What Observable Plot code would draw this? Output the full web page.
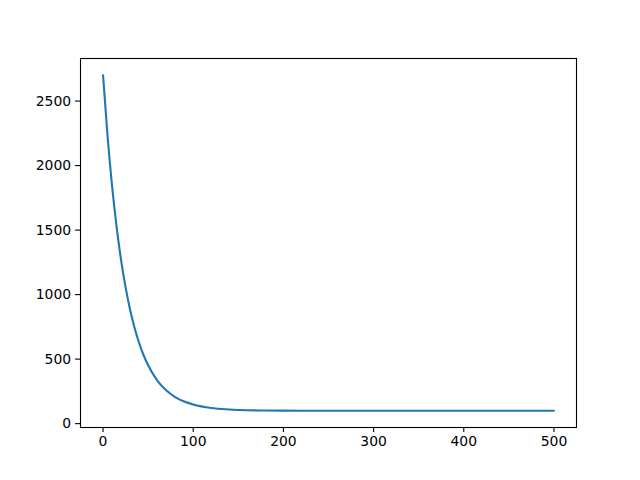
<!DOCTYPE html>
<html>
<head>
<meta charset="utf-8">
<script src="https://cdn.jsdelivr.net/npm/d3@7"></script>
<script src="https://cdn.jsdelivr.net/npm/@observablehq/plot@0.6"></script>
<style>
  html, body { margin: 0; padding: 0; background: #fff; }
</style>
</head>
<body>
<div id="chart"></div>
<script>
// Values
const xs = [0, 5, 10, 15, 20, 25, 30, 35, 40, 45, 50, 60, 70, 80, 90, 100, 120, 140, 160, 180, 200, 250, 300, 350, 400, 450, 500];
const ys = [2700, 2229, 1843, 1527, 1268, 1056, 883, 741, 625, 530, 452, 336, 258, 206, 171, 148, 121, 110, 104, 102, 101, 100, 100, 100, 100, 100, 100];
const xTicks = [0, 100, 200, 300, 400, 500];
const yTicks = [0, 500, 1000, 1500, 2000, 2500];

const data = xs.map((x, i) => ({x, y: ys[i]}));

const chart = Plot.plot({
  width: 640,
  height: 480,
  marginLeft: 80,
  marginRight: 64,
  marginTop: 58,
  marginBottom: 53,
  style: {background: "#fff", fontFamily: "DejaVu Sans, sans-serif", fontSize: "13.9px", color: "#000", overflow: "visible"},
  x: {domain: [-25, 525], label: null},
  y: {domain: [-30, 2830], label: null},
  marks: [
    Plot.line(data, {x: "x", y: "y", stroke: "#1f77b4", strokeWidth: 2.1, curve: "monotone-x"}),
    Plot.frame({stroke: "#000", strokeWidth: 1.1}),
    Plot.axisX({ticks: xTicks, tickFormat: d => String(d), tickSize: 4.9, tickPadding: 4, label: null, fontSize: 13.9, strokeWidth: 1.1}),
    Plot.axisY({ticks: yTicks, tickFormat: d => String(d), tickSize: 4.9, tickPadding: 4.5, label: null, fontSize: 13.9, strokeWidth: 1.1})
  ]
});
document.getElementById("chart").appendChild(chart);
</script>
</body>
</html>
